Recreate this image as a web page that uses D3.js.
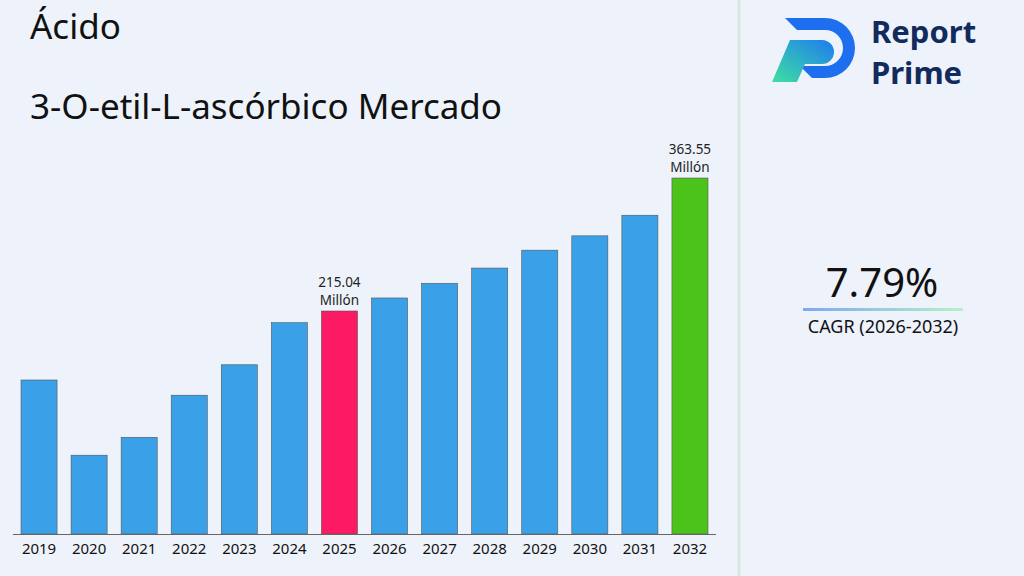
<!DOCTYPE html>
<html><head><meta charset="utf-8">
<script src="https://cdn.jsdelivr.net/npm/d3@7"></script>
<style>body{margin:0;background:#eef3fb;font-family:"Noto Sans",sans-serif}</style>
</head><body>
<svg id="c" width="1024" height="576"></svg>
<script>
var years = ["2019","2020","2021","2022","2023","2024","2025","2026","2027","2028","2029","2030","2031","2032"];
var values = [138, 54, 74, 121, 155, 202, 215.04, 229.6, 246, 263, 283, 299, 322, 363.55];
var labels = {"2025": ["215.04", "Millón"], "2032": ["363.55", "Millón"]};
var colors = {"2025": "#fb1a63", "2032": "#4cc31a"};

var svg = d3.select("#c");
svg.append("rect").attr("width", 1024).attr("height", 576).attr("fill", "#eef3fb");
svg.append("rect").attr("x", 739).attr("width", 285).attr("height", 576).attr("fill", "#edf2fb");
svg.append("line").attr("x1", 739).attr("x2", 739).attr("y1", 0).attr("y2", 576)
    .attr("stroke", "#d5e8dc").attr("stroke-width", 3);

var x = d3.scaleBand().domain(years).range([16, 713]).paddingInner(0.28).paddingOuter(0.1);
var y = d3.scaleLinear().domain([-34, 400]).range([534, 145.4]);

svg.selectAll(".bar").data(years).enter().append("rect")
    .attr("x", function(d) { return x(d); })
    .attr("width", x.bandwidth())
    .attr("y", function(d, i) { return y(values[i]); })
    .attr("height", function(d, i) { return y(-34) - y(values[i]); })
    .attr("fill", function(d) { return colors[d] || "#3aa0e8"; })
    .attr("stroke", "#555").attr("stroke-width", 0.6);

svg.append("line").attr("x1", 13).attr("x2", 716).attr("y1", 534.5).attr("y2", 534.5)
    .attr("stroke", "#666");

var ax = svg.append("g").attr("transform", "translate(0,534)")
    .call(d3.axisBottom(x).tickSize(0).tickPadding(9));
ax.select(".domain").remove();
ax.selectAll("text").attr("font-size", 15).attr("fill", "#111").attr("font-family", "Noto Sans");

years.forEach(function(d, i) {
    if (!labels[d]) return;
    var t = svg.append("text").attr("text-anchor", "middle").attr("font-size", 13.5).attr("fill", "#222");
    t.append("tspan").attr("x", x(d) + x.bandwidth() / 2).attr("y", y(values[i]) - 24).text(labels[d][0]);
    t.append("tspan").attr("x", x(d) + x.bandwidth() / 2).attr("y", y(values[i]) - 6).text(labels[d][1]);
});

svg.append("text").attr("x", 30).attr("y", 39).attr("font-size", 35).attr("fill", "#111").text("Ácido");
svg.append("text").attr("x", 30).attr("y", 119).attr("font-size", 35).attr("fill", "#111").text("3-O-etil-L-ascórbico Mercado");

// right panel
svg.append("text").attr("x", 882).attr("y", 297).attr("text-anchor", "middle").attr("font-size", 40).attr("fill", "#111").text("7.79%");
var g = svg.append("defs").append("linearGradient").attr("id", "ln");
g.append("stop").attr("offset", "0").attr("stop-color", "#7fa8f0");
g.append("stop").attr("offset", "1").attr("stop-color", "#b8f0c8");
svg.append("rect").attr("x", 803).attr("y", 308).attr("width", 160).attr("height", 3).attr("fill", "url(#ln)");
svg.append("text").attr("x", 883).attr("y", 333).attr("text-anchor", "middle").attr("font-size", 18).attr("fill", "#111").text("CAGR (2026-2032)");

// logo
var lg = svg.append("defs").append("linearGradient").attr("id", "lg").attr("x1", 0).attr("y1", 1).attr("x2", 1).attr("y2", 0);
lg.append("stop").attr("offset", "0").attr("stop-color", "#3ee0a0");
lg.append("stop").attr("offset", "1").attr("stop-color", "#1e7bf0");
svg.append("path").attr("d", "M785 18 H825 A30 30 0 0 1 825 78 H812 L800 66 H825 A18 18 0 0 0 825 30 H797 Z")
    .attr("fill", "#1e6ff0");
svg.append("path").attr("d", "M772 82 L790 40 H822 A12 12 0 0 1 822 64 H805 L797 82 Z").attr("fill", "url(#lg)");
svg.append("text").attr("x", 871).attr("y", 43).attr("font-size", 31).attr("font-weight", "bold").attr("fill", "#122a5c").text("Report");
svg.append("text").attr("x", 871).attr("y", 84).attr("font-size", 31).attr("font-weight", "bold").attr("fill", "#122a5c").text("Prime");
</script>
</body></html>
